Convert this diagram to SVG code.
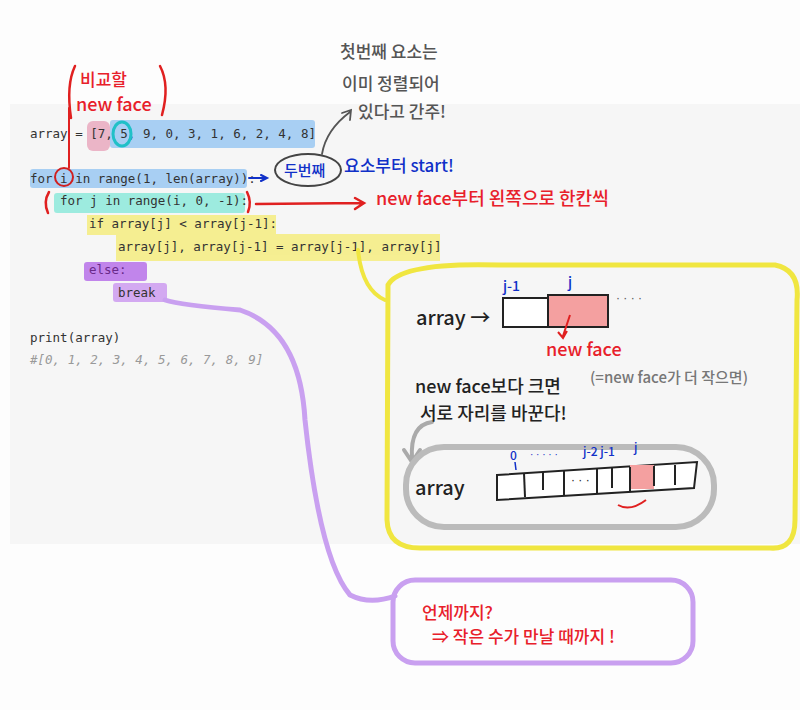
<svg xmlns="http://www.w3.org/2000/svg" width="800" height="710" viewBox="0 0 800 710">
<style>
.code{font-family:"DejaVu Sans Mono","Liberation Mono",monospace;font-size:12.5px;fill:#333}
.hand{font-family:"Noto Sans CJK KR","Noto Sans",sans-serif;font-weight:500}
.red{fill:#e8202a}.blue{fill:#1030c8}.blk{fill:#222}.gry{fill:#555}
</style>
<rect width="800" height="710" fill="#fdfdfd"/>
<rect x="10" y="104" width="790" height="440" fill="#f6f6f6"/>
<g id="highlights" opacity="0.75">
<rect x="87" y="121" width="23" height="30" rx="6" fill="#e8a0b8"/>
<rect x="110" y="120" width="205" height="28" rx="3" fill="#8ec2f2"/>
<rect x="30" y="169" width="217" height="19" rx="3" fill="#8ec2f2"/>
<rect x="54" y="193" width="191" height="20" rx="3" fill="#80e8d8"/>
<rect x="87" y="215" width="189" height="20" fill="#f5ec70"/>
<rect x="116" y="234" width="324" height="27" fill="#f5ec70"/>
<rect x="84" y="262" width="63" height="19" rx="3" fill="#b060e8"/>
<rect x="113" y="283" width="54" height="19" rx="3" fill="#c890f0"/>
</g>
<g id="code">
<text class="code" x="30" y="138">array = [7, 5, 9, 0, 3, 1, 6, 2, 4, 8]</text>
<text class="code" x="30" y="183">for i in range(1, len(array)):</text>
<text class="code" x="60" y="205">for j in range(i, 0, -1):</text>
<text class="code" x="89" y="228">if array[j] &lt; array[j-1]:</text>
<text class="code" x="118" y="251">array[j], array[j-1] = array[j-1], array[j]</text>
<text class="code" x="89" y="274" style="fill:#6a2a8a">else:</text>
<text class="code" x="118" y="297">break</text>
<text class="code" x="30" y="342">print(array)</text>
<text class="code" x="30" y="364" style="fill:#999;font-style:italic">#[0, 1, 2, 3, 4, 5, 6, 7, 8, 9]</text>
</g>
<g id="connectors" fill="none" stroke-linecap="round">
<ellipse cx="122" cy="134" rx="9" ry="12" stroke="#20c0c8" stroke-width="3"/>
<circle cx="64" cy="177" r="9" stroke="#d02020" stroke-width="2"/>
<path d="M69 168 L69 108" stroke="#e02020" stroke-width="2"/>
<path d="M75 66 Q66 85 71 118 M160 66 Q170 85 162 115" stroke="#e02020" stroke-width="2.5"/>
<path d="M49 192 Q43 202 48 213 M247 192 Q252 202 248 212" stroke="#e02020" stroke-width="2.5"/>
<path d="M256 204 L362 203 M355 198 L364 203 L355 209" stroke="#e02020" stroke-width="2.5"/>
<path d="M249 178 L266 178 M261 175 L267 178 L261 181" stroke="#1030c8" stroke-width="2"/>
<ellipse cx="308" cy="170" rx="33" ry="16" stroke="#444" stroke-width="2"/>
<path d="M322 154 Q326 130 350 112 M342 113 L351 110 L350 120" stroke="#555" stroke-width="1.8"/>
<path d="M358 250 Q362 290 385 300" stroke="#f0e640" stroke-width="4"/>
<path d="M388 285 Q400 262 500 265 L775 265 Q800 270 797 300 L795 520 Q795 550 770 548 L420 548 Q388 548 387 520 Z" stroke="#f0e640" stroke-width="5"/>
<path d="M165 300 Q180 305 240 310 Q300 330 305 420 Q320 560 350 595 Q370 605 395 596" stroke="#c9a0f0" stroke-width="5"/>
<rect x="393" y="580" width="300" height="83" rx="22" stroke="#c9a0f0" stroke-width="5"/>
<path d="M432 422 Q410 425 412 458 M404 450 L412 462 L420 450" stroke="#aaa" stroke-width="4"/>
<rect x="406" y="447" width="308" height="80" rx="38" stroke="#bbb" stroke-width="6"/>
</g>
<g id="annotations">
<text class="hand red" x="80" y="86" font-size="17">비교할</text>
<text class="hand red" x="76" y="111" font-size="18">new face</text>
<text class="hand gry" x="340" y="58" font-size="17">첫번째 요소는</text>
<text class="hand gry" x="342" y="90" font-size="17">이미 정렬되어</text>
<text class="hand gry" x="358" y="118" font-size="17">있다고 간주!</text>
<text class="hand blue" x="284" y="176" font-size="15">두번째</text>
<text class="hand blue" x="344" y="172" font-size="17">요소부터 start!</text>
<text class="hand red" x="376" y="205" font-size="18">new face부터 왼쪽으로 한칸씩</text>
</g>
<g id="box1">
<text class="hand blk" x="416" y="325" font-size="20">array →</text>
<rect x="503" y="298" width="45" height="29" fill="#fff" stroke="#222" stroke-width="2"/>
<rect x="548" y="295" width="60" height="32" fill="#f4a0a0" stroke="#222" stroke-width="2"/>
<text x="616" y="302" font-family="Liberation Sans" font-size="12" fill="#555">· · · ·</text>
<text class="hand blue" x="503" y="291" font-size="14">j-1</text>
<text class="hand blue" x="568" y="287" font-size="14">j</text>
<path d="M570 315 L563 336 M558 332 L563 338 L567 331" stroke="#e02020" stroke-width="2" fill="none"/>
<text class="hand red" x="546" y="356" font-size="18">new face</text>
<text class="hand blk" x="415" y="393" font-size="18">new face보다 크면</text>
<text class="hand" x="590" y="383" font-size="15" fill="#777">(=new face가 더 작으면)</text>
<text class="hand blk" x="420" y="420" font-size="18">서로 자리를 바꾼다!</text>
</g>
<g id="box2">
<text class="hand blk" x="415" y="495" font-size="20">array</text>
<path d="M497 475 L697 462 L694 488 L497 500 Z" fill="#fff" stroke="#222" stroke-width="2"/>
<rect x="630" y="465" width="24" height="24" fill="#f4a0a0"/>
<g stroke="#222" stroke-width="2">
<line x1="524" y1="473" x2="525" y2="497"/><line x1="543" y1="472" x2="543" y2="490"/>
<line x1="564" y1="470" x2="564" y2="495"/><line x1="597" y1="469" x2="597" y2="494"/>
<line x1="612" y1="468" x2="612" y2="488"/><line x1="630" y1="467" x2="630" y2="492"/>
<line x1="654" y1="466" x2="654" y2="486"/><line x1="675" y1="465" x2="675" y2="485"/>
</g>
<text x="571" y="484" font-family="Liberation Sans" font-size="12" fill="#222">· · ·</text>
<text class="hand blue" x="510" y="460" font-size="12">0</text>
<path d="M515 462 L516 470" stroke="#1030c8" stroke-width="1.5"/>
<text x="530" y="458" font-family="Liberation Sans" font-size="10" fill="#1030c8">· · · · ·</text>
<text class="hand blue" x="583" y="456" font-size="12">j-2 j-1</text>
<text class="hand blue" x="634" y="452" font-size="12">j</text>
<path d="M618 505 Q630 512 646 500" stroke="#e02020" stroke-width="2" fill="none"/>
</g>
<g id="box3">
<text class="hand red" x="422" y="619" font-size="17">언제까지?</text>
<text class="hand red" x="432" y="643" font-size="17">⇒ 작은 수가 만날 때까지 !</text>
</g>
</svg>
